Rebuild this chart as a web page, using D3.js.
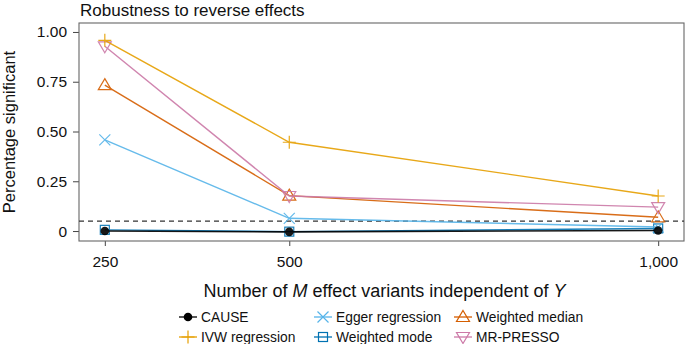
<!DOCTYPE html>
<html>
<head>
<meta charset="utf-8">
<script src="https://cdn.jsdelivr.net/npm/d3@7"></script>
<style>
  body { margin: 0; background: #fff; }
  svg { display: block; font-family: "Liberation Sans", Arial, sans-serif; }
</style>
</head>
<body>
<div id="chart"></div>
<script>
/* x positions: number of M effect variants independent of Y */
const variants = [250, 500, 1000];

/* share of significant results, one array per method */
const causeVals = [0.0, -0.004, 0.003];
const ivwVals = [0.958, 0.446, 0.176];
const eggerVals = [0.458, 0.064, 0.02];
const modeVals = [0.006, -0.003, 0.013];
const medianVals = [0.733, 0.178, 0.069];
const pressoVals = [0.928, 0.176, 0.12];

const methodNames = ["CAUSE", "IVW regression", "Egger regression", "Weighted mode", "Weighted median", "MR-PRESSO"];
const yTicks = [0, 0.25, 0.5, 0.75, 1];
const yTickLabels = ["0", "0.25", "0.50", "0.75", "1.00"];
const xTickLabels = ["250", "500", "1,000"];

const width = 685, height = 344;
const panel = { left: 79, right: 684, top: 23, bottom: 241 };

const series = [
  { name: methodNames[0], values: causeVals, color: "#000000", shape: "circle" },
  { name: methodNames[1], values: ivwVals, color: "#E69F00", shape: "plus" },
  { name: methodNames[2], values: eggerVals, color: "#56B4E9", shape: "cross" },
  { name: methodNames[3], values: modeVals, color: "#0072B2", shape: "square" },
  { name: methodNames[4], values: medianVals, color: "#D55E00", shape: "triUp" },
  { name: methodNames[5], values: pressoVals, color: "#CC79A7", shape: "triDown" }
];

const x = d3.scaleLinear().domain([215, 1035]).range([panel.left, panel.right]);
const y = d3.scaleLinear().domain([-0.05, 1.045]).range([panel.bottom, panel.top]);

const svg = d3.select("#chart").append("svg")
  .attr("width", width)
  .attr("height", height);

/* title */
svg.append("text")
  .attr("x", 80).attr("y", 15.5)
  .attr("font-size", 17)
  .attr("fill", "#111")
  .text("Robustness to reverse effects");

/* y axis */
const yAxis = svg.append("g")
  .attr("transform", "translate(" + panel.left + ",0)")
  .call(d3.axisLeft(y).tickValues(yTicks).tickSize(6).tickPadding(6)
    .tickFormat((d, i) => yTickLabels[i]));
yAxis.select(".domain").remove();
yAxis.selectAll("line").attr("stroke", "#444");
yAxis.selectAll("text").attr("font-size", 15.5).attr("fill", "#111")
  .attr("font-family", "Liberation Sans, Arial, sans-serif");

/* x axis */
const xAxis = svg.append("g")
  .attr("transform", "translate(0," + panel.bottom + ")")
  .call(d3.axisBottom(x).tickValues(variants).tickSize(5).tickPadding(10)
    .tickFormat((d, i) => xTickLabels[i]));
xAxis.select(".domain").remove();
xAxis.selectAll("line").attr("stroke", "#444");
xAxis.selectAll("text").attr("font-size", 15.5).attr("fill", "#111")
  .attr("font-family", "Liberation Sans, Arial, sans-serif");

/* panel border */
svg.append("rect")
  .attr("x", panel.left).attr("y", panel.top)
  .attr("width", panel.right - panel.left).attr("height", panel.bottom - panel.top)
  .attr("fill", "none").attr("stroke", "#666").attr("stroke-width", 1.1);

/* axis titles */
svg.append("text")
  .attr("transform", "translate(15," + ((panel.top + panel.bottom) / 2) + ") rotate(-90)")
  .attr("text-anchor", "middle")
  .attr("font-size", 16.5)
  .attr("fill", "#111")
  .text("Percentage significant");

const xTitle = svg.append("text")
  .attr("x", (panel.left + panel.right) / 2 + 3).attr("y", 297)
  .attr("text-anchor", "middle")
  .attr("font-size", 18)
  .attr("fill", "#111");
xTitle.append("tspan").text("Number of ");
xTitle.append("tspan").attr("font-style", "italic").text("M");
xTitle.append("tspan").text(" effect variants independent of ");
xTitle.append("tspan").attr("font-style", "italic").text("Y");

/* reference line at 0.05 */
svg.append("line")
  .attr("x1", panel.left).attr("x2", panel.right)
  .attr("y1", y(0.05)).attr("y2", y(0.05))
  .attr("stroke", "#333").attr("stroke-width", 1.3)
  .attr("stroke-dasharray", "5,4");

/* marker drawing */
function drawMarker(g, shape, color, cx, cy) {
  const s = 5.5;
  if (shape === "circle") {
    g.append("circle").attr("cx", cx).attr("cy", cy).attr("r", 4.3).attr("fill", color);
  } else if (shape === "plus") {
    g.append("path").attr("d", "M" + (cx - s - 1) + "," + cy + "H" + (cx + s + 1) + "M" + cx + "," + (cy - s - 1) + "V" + (cy + s + 1))
      .attr("stroke", color).attr("stroke-width", 1.2).attr("fill", "none");
  } else if (shape === "cross") {
    g.append("path").attr("d", "M" + (cx - s) + "," + (cy - s) + "L" + (cx + s) + "," + (cy + s) + "M" + (cx - s) + "," + (cy + s) + "L" + (cx + s) + "," + (cy - s))
      .attr("stroke", color).attr("stroke-width", 1.2).attr("fill", "none");
  } else if (shape === "square") {
    g.append("rect").attr("x", cx - 4.5).attr("y", cy - 4.5).attr("width", 9).attr("height", 9)
      .attr("stroke", color).attr("stroke-width", 1.2).attr("fill", "none");
  } else if (shape === "triUp") {
    g.append("path").attr("d", "M" + cx + "," + (cy - 6.5) + "L" + (cx + 6.5) + "," + (cy + 4.5) + "L" + (cx - 6.5) + "," + (cy + 4.5) + "Z")
      .attr("stroke", color).attr("stroke-width", 1.2).attr("fill", "none");
  } else if (shape === "triDown") {
    g.append("path").attr("d", "M" + cx + "," + (cy + 6.5) + "L" + (cx + 6.5) + "," + (cy - 4.5) + "L" + (cx - 6.5) + "," + (cy - 4.5) + "Z")
      .attr("stroke", color).attr("stroke-width", 1.2).attr("fill", "none");
  }
}

const line = d3.line().x(d => x(d[0])).y(d => y(d[1]));

/* draw CAUSE last so it sits on top */
const drawOrder = [3, 2, 4, 5, 1, 0];
const plot = svg.append("g");
drawOrder.forEach(k => {
  const s = series[k];
  const pts = variants.map((v, i) => [v, s.values[i]]);
  const g = plot.append("g").attr("opacity", 0.9);
  g.append("path").datum(pts)
    .attr("d", line)
    .attr("fill", "none")
    .attr("stroke", s.color)
    .attr("stroke-width", s.shape === "circle" ? 1.6 : 1.4);
  pts.forEach(p => drawMarker(g, s.shape, s.color, x(p[0]), y(p[1])));
});

/* legend, filled column by column */
const legendCols = [188, 323, 463];
const legendRows = [317, 337];
series.forEach((s, i) => {
  const col = Math.floor(i / 2), row = i % 2;
  const cx = legendCols[col], cy = legendRows[row];
  const g = svg.append("g");
  g.append("line")
    .attr("x1", cx - 9).attr("x2", cx + 9)
    .attr("y1", cy).attr("y2", cy)
    .attr("stroke", s.color).attr("stroke-width", 1.3);
  drawMarker(g, s.shape, s.color, cx, cy);
  g.append("text")
    .attr("x", cx + 13).attr("y", cy + 5)
    .attr("font-size", 13.8)
    .attr("fill", "#111")
    .text(s.name);
});
</script>
</body>
</html>
